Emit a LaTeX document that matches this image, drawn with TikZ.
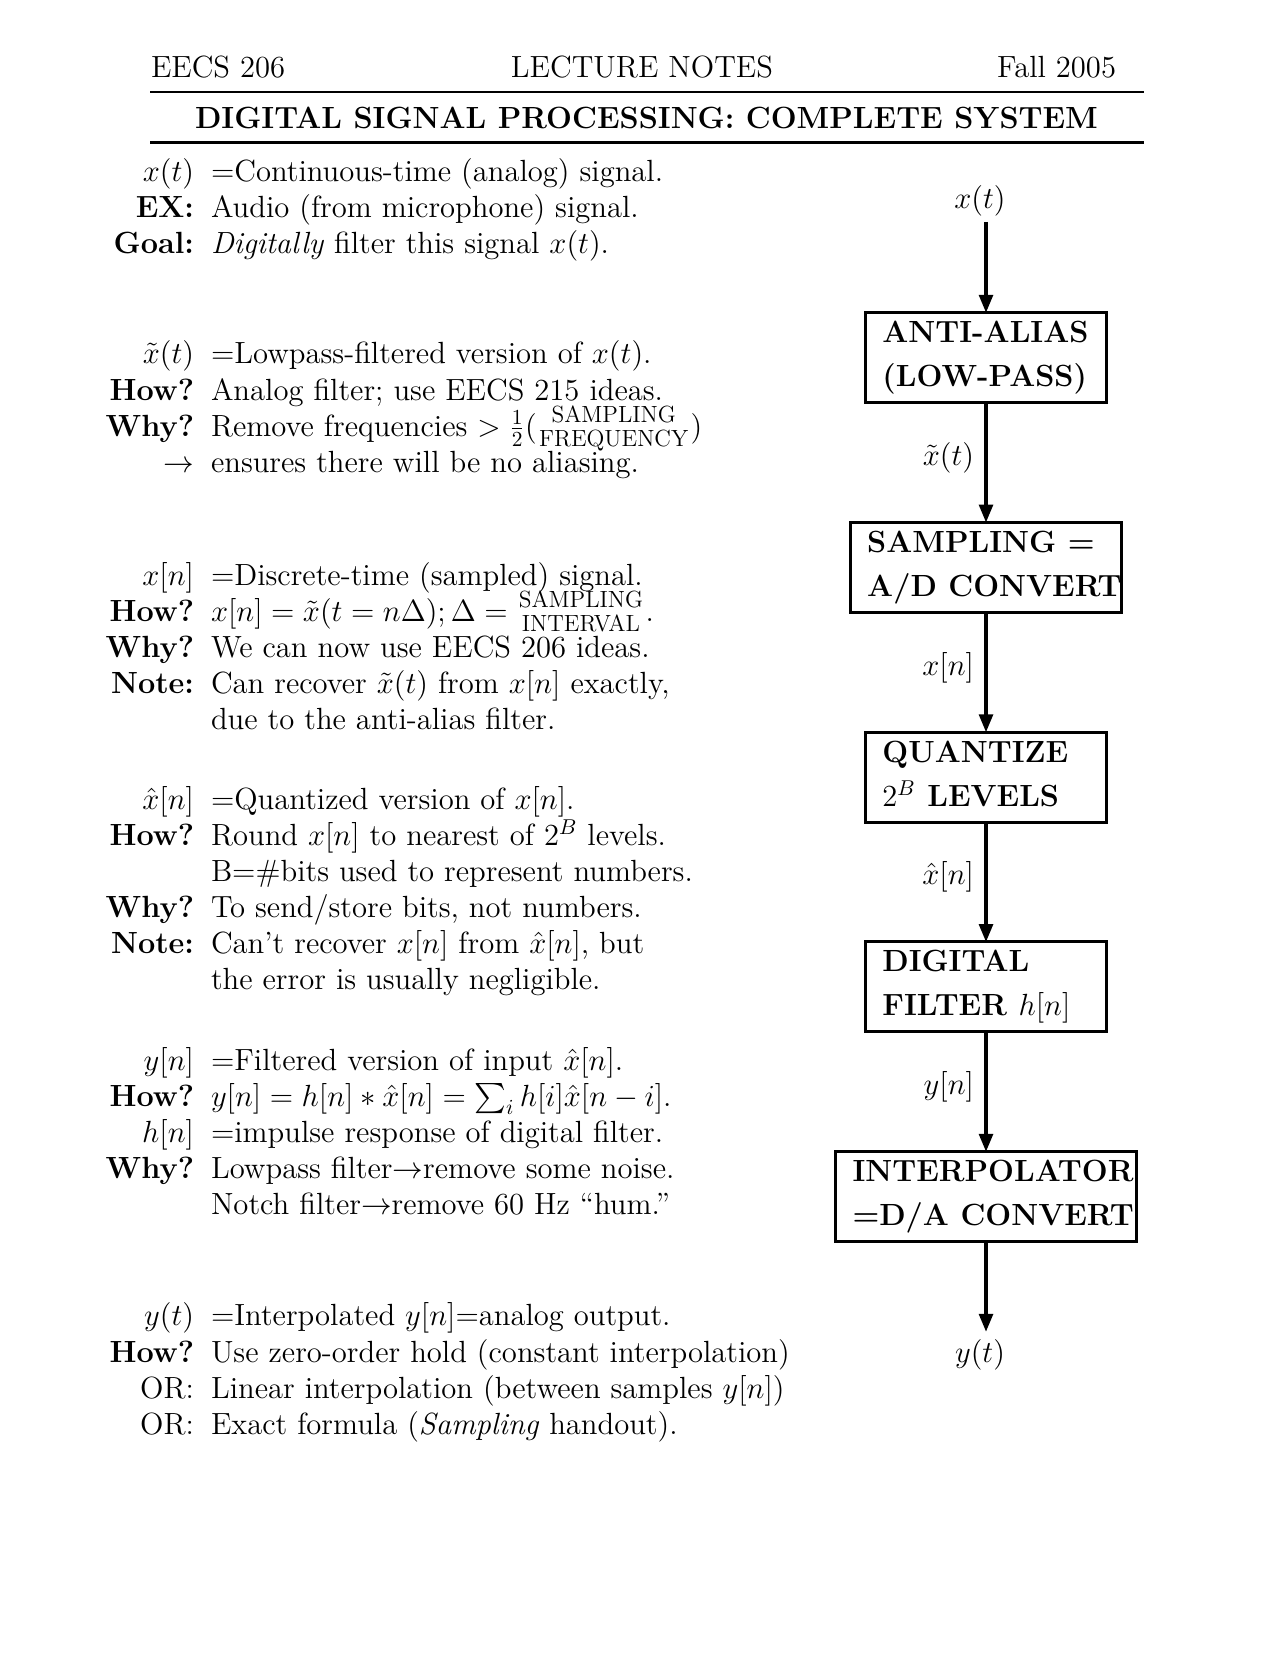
\RequirePackage{fix-cm}
\documentclass[tikz,border=0pt]{standalone}
\usepackage{amsmath}
\usetikzlibrary{arrows.meta}
\newcommand\stk[2]{\smash{\genfrac{}{}{0pt}{1}{\mbox{\fontsize{11.2}{12}\selectfont #1}}{\mbox{\fontsize{11.2}{12}\selectfont #2}}}}
\begin{document}
\begin{tikzpicture}[x=0.47813pt,y=-0.47813pt,
 every node/.style={inner sep=0pt,outer sep=0pt,font=\fontsize{14.65}{17.28}\selectfont},
 lbl/.style={anchor=base east,align=right},
 txt/.style={anchor=base west,align=left},
 hrule/.style={line width=1.4pt},
 stage/.style={draw,line width=1.4pt,minimum height=43.03pt},
 stagetxt/.style={anchor=base west,align=left,font=\fontsize{14.65}{21.04}\selectfont\bfseries},
 flow/.style={line width=1.5pt,-{Triangle[length=8.5pt,width=6.6pt]}}
]
\fill[white] (0,0) rectangle (1280,1656);
\useasboundingbox (0,0) rectangle (1280,1656);

% header
\node[anchor=base west] (h1) at (151,78) {EECS 206};
\node[anchor=base] (h2) at (642,78) {LECTURE NOTES};
\node[anchor=base east] (h3) at (1116,78) {Fall 2005};
\draw[hrule] (150,92) -- (1144,92);
\node[anchor=base] (title) at (646.5,129) {\bfseries DIGITAL SIGNAL PROCESSING: COMPLETE SYSTEM};
\draw[hrule] (150,142.6) -- (1144,142.6);

% left column (anchors are at the baseline of the last line)
\node[lbl] (l1) at (194,253.9) {$x(t)$\\ \textbf{EX:}\\ \textbf{Goal:}};
\node[txt] (t1) at (211,253.9) {=Continuous-time (analog) signal.\\
Audio (from microphone) signal.\\
\textit{Digitally} filter this signal $x(t)$.};

\node[lbl] (l2) at (194,472.4) {$\tilde{x}(t)$\\ \textbf{How?}\\ \textbf{Why?}\\ $\rightarrow$};
\node[txt] (t2) at (211,472.4) {=Lowpass-filtered version of $x(t)$.\\
Analog filter; use EECS 215 ideas.\\
Remove frequencies $>\frac{1}{2}(\stk{SAMPLING}{FREQUENCY})$\\
ensures there will be no aliasing.};

\node[lbl] (l3) at (194,729.6) {$x[n]$\\ \textbf{How?}\\ \textbf{Why?}\\ \textbf{Note:}\\ \mbox{}};
\node[txt] (t3) at (211,729.6) {=Discrete-time (sampled) signal.\\
$x[n]=\tilde{x}(t=n\Delta);\Delta=\stk{SAMPLING}{INTERVAL}.$\\
We can now use EECS 206 ideas.\\
Can recover $\tilde{x}(t)$ from $x[n]$ exactly,\\
due to the anti-alias filter.};

\node[lbl] (l4) at (194,989.7) {$\hat{x}[n]$\\ \textbf{How?}\\ \mbox{}\\ \textbf{Why?}\\ \textbf{Note:}\\ \mbox{}};
\node[txt] (t4) at (211,989.7) {=Quantized version of $x[n]$.\\
Round $x[n]$ to nearest of $2^B$ levels.\\
B=\#bits used to represent numbers.\\
To send/store bits, not numbers.\\
Can't recover $x[n]$ from $\hat{x}[n]$, but\\
the error is usually negligible.};

\node[lbl] (l5) at (194,1214.6) {$y[n]$\\ \textbf{How?}\\ $h[n]$\\ \textbf{Why?}\\ \mbox{}};
\node[txt] (t5) at (211,1214.6) {=Filtered version of input $\hat{x}[n]$.\\
$y[n]=h[n]*\hat{x}[n]=\sum_i h[i]\hat{x}[n-i]$.\\
=impulse response of digital filter.\\
Lowpass filter$\rightarrow$remove some noise.\\
Notch filter$\rightarrow$remove 60 Hz ``hum.''};

\node[lbl] (l6) at (194,1434.4) {$y(t)$\\ \textbf{How?}\\ OR:\\ OR:};
\node[txt] (t6) at (211,1434.4) {=Interpolated $y[n]$=analog output.\\
Use zero-order hold (constant interpolation)\\
Linear interpolation (between samples $y[n]$)\\
Exact formula (\textit{Sampling} handout).};

% right column: system chain
\node[anchor=base] (sx) at (980,209) {$x(t)$};
\coordinate (in) at (986,222);
\node[stage,minimum width=115.37pt] (aa) at (986,357.7) {};
\node[stagetxt] (aat) at (882.4,386.7) {ANTI-ALIAS\\(LOW-PASS)};
\node[stage,minimum width=129.86pt] (sd) at (986,567.45) {};
\node[stagetxt] (sdt) at (867.2,596.45) {SAMPLING =\\A/D CONVERT};
\node[stage,minimum width=115.37pt] (qq) at (986,777.2) {};
\node[stagetxt] (qqt) at (882.4,806.2) {QUANTIZE\\$2^B$ LEVELS};
\node[stage,minimum width=115.37pt] (df) at (986,986.95) {};
\node[stagetxt] (dft) at (882.4,1015.95) {DIGITAL\\FILTER $h[n]$};
\node[stage,minimum width=143.92pt] (ip) at (986,1196.7) {};
\node[stagetxt] (ipt) at (852.5,1225.7) {INTERPOLATOR\\=D/A CONVERT};
\coordinate (out) at (986,1331.7);
\node[anchor=base] (sy) at (980,1362) {$y(t)$};

\node[anchor=base east] (s1) at (974,465) {$\tilde{x}(t)$};
\node[anchor=base east] (s2) at (974,675) {$x[n]$};
\node[anchor=base east] (s3) at (974,884.5) {$\hat{x}[n]$};
\node[anchor=base east] (s4) at (974,1094) {$y[n]$};

\draw[flow] (in) -- (aa.north);
\draw[flow] (aa.south) -- (sd.north);
\draw[flow] (sd.south) -- (qq.north);
\draw[flow] (qq.south) -- (df.north);
\draw[flow] (df.south) -- (ip.north);
\draw[flow] (ip.south) -- (out);
\end{tikzpicture}
\end{document}
